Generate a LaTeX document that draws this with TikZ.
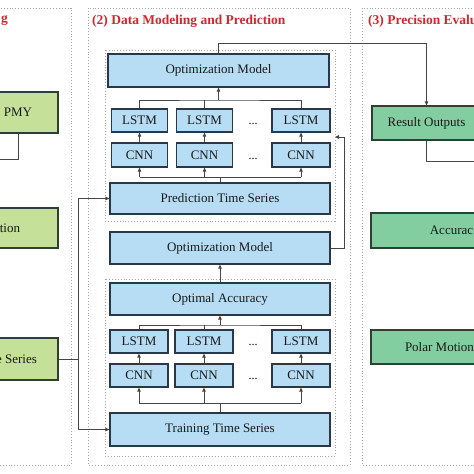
\documentclass[tikz,border=0pt]{standalone}
\usepackage{fontspec}
\setmainfont{Liberation Serif}
\usetikzlibrary{arrows.meta}
\definecolor{bluefill}{RGB}{182,221,243}
\definecolor{boxborder}{RGB}{40,56,72}
\definecolor{greenL}{RGB}{197,224,152}
\definecolor{greenR}{RGB}{130,206,160}
\definecolor{greenborder}{RGB}{45,65,50}
\definecolor{titlered}{RGB}{208,40,46}
\definecolor{linegray}{RGB}{70,70,70}
\definecolor{dotgray}{RGB}{165,165,165}
\begin{document}
\begin{tikzpicture}[x=1pt,y=-1pt,
  lbl/.style={font=\fontsize{13}{15}\selectfont, text=black!90},
  bluebox/.style={lbl, draw=boxborder, line width=1.3pt, fill=bluefill, inner sep=0pt},
  greenlbox/.style={lbl, draw=greenborder, line width=1.3pt, fill=greenL, inner sep=0pt},
  greenrbox/.style={lbl, draw=greenborder, line width=1.3pt, fill=greenR, inner sep=0pt},
  paneltitle/.style={font=\fontsize{13.5}{16}\selectfont\bfseries, text=titlered, inner sep=0pt},
  panel/.style={draw=dotgray, dotted, line width=0.9pt},
  conn/.style={draw=linegray, line width=0.9pt},
  arr/.style={conn, -{Triangle[length=4pt,width=3.6pt]}},
  dotsnode/.style={font=\fontsize{12}{14}\selectfont, inner sep=0pt}
]
\useasboundingbox (0,0) rectangle (474,474);
\clip (0,0) rectangle (474,474);
\fill[white] (0,0) rectangle (474,474);

% panels
\draw[panel] (-10,8) rectangle (71,465);
\draw[panel] (88,8) rectangle (350,465);
\draw[panel] (362,8) rectangle (495,465);
\draw[panel] (105,50) rectangle (335,221);
\draw[panel] (105,279) rectangle (335,456);

% titles
\node[paneltitle, anchor=east] (t1) at (8,21) {g};
\node[paneltitle, anchor=west] (t2) at (92,21) {(2) Data Modeling and Prediction};
\node[paneltitle, anchor=west] (t3) at (368,21) {(3) Precision Evalu};

% left boxes
\node[greenlbox, minimum width=80pt, minimum height=41pt] (pmy) at (18,112.5) {PMY};
\node[greenlbox, minimum width=102pt, minimum height=40pt] (ation) at (7,228) {ation};
\node[greenlbox, minimum width=83pt, minimum height=42pt] (ser) at (16.5,359) {e Series};

% right boxes
\node[greenrbox, minimum width=109pt, minimum height=34pt] (res) at (426.5,123) {Result Outputs};
\node[greenrbox, minimum width=161pt, minimum height=35pt] (acc) at (451.5,230.5) {Accurac};
\node[greenrbox, minimum width=137pt, minimum height=34pt] (pol) at (439.5,347) {Polar Motion};

% blue boxes upper group
\node[bluebox, minimum width=221pt, minimum height=33pt] (optTop) at (218.5,70.5) {Optimization Model};
\node[bluebox, minimum width=56pt, minimum height=23pt] (la1) at (139.5,120.5) {LSTM};
\node[bluebox, minimum width=56pt, minimum height=23pt] (la2) at (204.5,120.5) {LSTM};
\node[bluebox, minimum width=58pt, minimum height=23pt] (la4) at (301,120.5) {LSTM};
\node[bluebox, minimum width=56pt, minimum height=24pt] (ca1) at (139.5,155) {CNN};
\node[bluebox, minimum width=56pt, minimum height=24pt] (ca2) at (204.5,155) {CNN};
\node[bluebox, minimum width=58pt, minimum height=24pt] (ca4) at (301,155) {CNN};
\node[dotsnode] (da1) at (253,124) {...};
\node[dotsnode] (da2) at (253,159) {...};
\node[bluebox, minimum width=220pt, minimum height=31pt] (predTS) at (220,198.5) {Prediction Time Series};

\node[bluebox, minimum width=220pt, minimum height=32pt] (optMid) at (220,248) {Optimization Model};

% blue boxes lower group
\node[bluebox, minimum width=220pt, minimum height=32pt] (optAcc) at (220,299) {Optimal Accuracy};
\node[bluebox, minimum width=58pt, minimum height=23pt] (lb1) at (139,341.5) {LSTM};
\node[bluebox, minimum width=58pt, minimum height=23pt] (lb2) at (204,341.5) {LSTM};
\node[bluebox, minimum width=58pt, minimum height=23pt] (lb4) at (301,341.5) {LSTM};
\node[bluebox, minimum width=58pt, minimum height=23pt] (cb1) at (139,375.5) {CNN};
\node[bluebox, minimum width=58pt, minimum height=23pt] (cb2) at (204,375.5) {CNN};
\node[bluebox, minimum width=58pt, minimum height=23pt] (cb4) at (301,375.5) {CNN};
\node[dotsnode] (db1) at (253,345) {...};
\node[dotsnode] (db2) at (253,379) {...};
\node[bluebox, minimum width=220pt, minimum height=33pt] (trainTS) at (220,429.5) {Training Time Series};

% coordinates
\coordinate (jt) at (218.5,100);
\coordinate (jp) at (220,177);
\coordinate (jl) at (220,325);
\coordinate (jc) at (220,403);
\coordinate (sj) at (78,359);
\coordinate (upin) at (335,137);
\coordinate (resout) at (480,161);
\coordinate (pmyout) at (-10,159);

% top output
\draw[arr] (optTop.north) -- ++(0,-10) -| (res.north);
\draw[conn] (res.south) |- (resout);
\draw[conn] (pmy.south) |- (pmyout);

% upper group
\draw[conn] (la1.north) |- (jt) -| (la4.north);
\draw[conn] (la2.north) -- (la2.north |- jt);
\draw[arr] (jt) -- (optTop.south);
\draw[arr] (ca1.north) -- (la1.south);
\draw[arr] (ca2.north) -- (la2.south);
\draw[arr] (ca4.north) -- (la4.south);
\draw[conn] (predTS.north) -- (jp);
\draw[conn] (ca1.south |- jp) -- (ca4.south |- jp);
\draw[arr] (ca1.south |- jp) -- (ca1.south);
\draw[arr] (ca2.south |- jp) -- (ca2.south);
\draw[arr] (ca4.south |- jp) -- (ca4.south);

% middle
\draw[arr] (optMid.east) -- ++(14,0) |- (upin);
\draw[arr] (optAcc.north) -- (optMid.south);

% lower group
\draw[conn] (lb1.north) |- (jl) -| (lb4.north);
\draw[conn] (lb2.north) -- (lb2.north |- jl);
\draw[arr] (jl) -- (optAcc.south);
\draw[arr] (cb1.north) -- (lb1.south);
\draw[arr] (cb2.north) -- (lb2.south);
\draw[arr] (cb4.north) -- (lb4.south);
\draw[conn] (trainTS.north) -- (jc);
\draw[conn] (cb1.south |- jc) -- (cb4.south |- jc);
\draw[arr] (cb1.south |- jc) -- (cb1.south);
\draw[arr] (cb2.south |- jc) -- (cb2.south);
\draw[arr] (cb4.south |- jc) -- (cb4.south);

% series input
\draw[conn] (ser.east) -- (sj);
\draw[arr] (sj) |- (predTS.west);
\draw[arr] (sj) |- (trainTS.west);
\end{tikzpicture}
\end{document}
